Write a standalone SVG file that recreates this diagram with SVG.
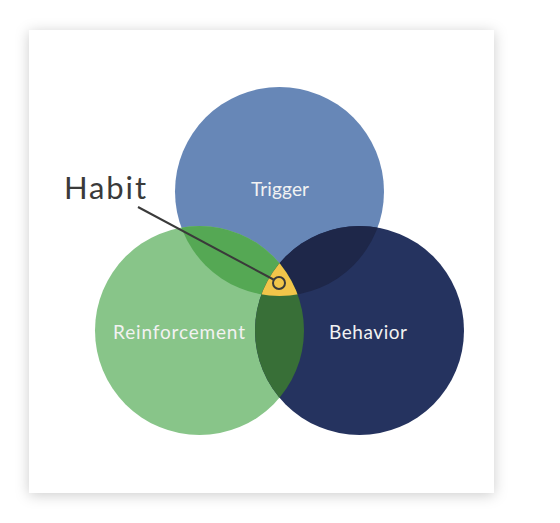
<svg xmlns="http://www.w3.org/2000/svg" width="560" height="523" viewBox="0 0 560 523">
<defs>
  <filter id="shadow" x="-10%" y="-10%" width="120%" height="120%">
    <feDropShadow dx="0" dy="2" stdDeviation="7" flood-color="#000" flood-opacity="0.2"/>
  </filter>
  <clipPath id="cT"><circle cx="279.5" cy="191.5" r="104.5"/></clipPath>
  <clipPath id="cR"><circle cx="199.5" cy="330.5" r="104.5"/></clipPath>
  <clipPath id="cB"><circle cx="359.5" cy="330.5" r="104.5"/></clipPath>
  <style>
    .lbl { font-family: "Lato", "Open Sans", "Liberation Sans", sans-serif; fill: #f2f2f2; font-size: 19px; text-anchor: middle; }
    .habit { font-family: "Lato", "Open Sans", "Liberation Sans", sans-serif; fill: #3a3a3a; font-size: 31px; }
    .lead { stroke: #3a3a3a; stroke-width: 2; fill: none; }
  </style>
</defs>
<rect x="0" y="0" width="560" height="523" fill="#ffffff"/>
<rect x="29" y="30" width="465" height="463" fill="#ffffff" filter="url(#shadow)"/>

<g id="trigger">
  <circle cx="279.5" cy="191.5" r="104.5" fill="#6787B7"/>
</g>
<g id="reinforcement">
  <circle cx="199.5" cy="330.5" r="104.5" fill="#88C589"/>
</g>
<g id="behavior">
  <circle cx="359.5" cy="330.5" r="104.5" fill="#25335F"/>
</g>
<g id="overlaps">
  <circle cx="279.5" cy="191.5" r="104.5" fill="#55A854" clip-path="url(#cR)"/>
  <circle cx="279.5" cy="191.5" r="104.5" fill="#1E2749" clip-path="url(#cB)"/>
  <circle cx="199.5" cy="330.5" r="104.5" fill="#386F37" clip-path="url(#cB)"/>
  <g clip-path="url(#cB)">
    <circle cx="279.5" cy="191.5" r="104.5" fill="#F2C54A" clip-path="url(#cR)"/>
  </g>
</g>
<g id="labels">
  <text class="lbl" x="280" y="195.5" textLength="58">Trigger</text>
  <text class="lbl" x="179" y="339" textLength="132">Reinforcement</text>
  <text class="lbl" x="368" y="339" textLength="78">Behavior</text>
</g>
<g id="habit">
  <text class="habit" x="64" y="199" textLength="82">Habit</text>
  <circle class="lead" cx="279" cy="283" r="6"/>
</g>
<g id="connectors">
  <line class="lead" x1="138" y1="207" x2="273.5" y2="279.5"/>
</g>
</svg>
